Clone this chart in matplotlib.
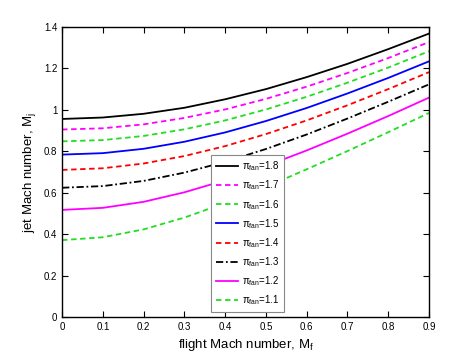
import numpy as np
import matplotlib
matplotlib.use('Agg')
import matplotlib.pyplot as plt
from matplotlib.ticker import FormatStrFormatter

plt.rcParams['font.family'] = ['Liberation Sans', 'DejaVu Sans']
plt.rcParams['mathtext.fontset'] = 'custom'
plt.rcParams['mathtext.rm'] = 'Liberation Sans'
plt.rcParams['mathtext.it'] = 'Liberation Sans'

Mf = [0.0, 0.1, 0.2, 0.3, 0.4, 0.5, 0.6, 0.7, 0.8, 0.9]  # flight Mach number
pi_fan = ['1.8', '1.7', '1.6', '1.5', '1.4', '1.3', '1.2', '1.1']

# jet Mach number, one list per fan pressure ratio
Mj_18 = [0.956, 0.963, 0.981, 1.010, 1.051, 1.100, 1.158, 1.222, 1.293, 1.368]
Mj_17 = [0.905, 0.911, 0.930, 0.961, 1.002, 1.053, 1.112, 1.178, 1.250, 1.327]
Mj_16 = [0.848, 0.854, 0.874, 0.906, 0.949, 1.002, 1.063, 1.131, 1.204, 1.283]
Mj_15 = [0.784, 0.791, 0.812, 0.846, 0.891, 0.946, 1.009, 1.079, 1.154, 1.234]
Mj_14 = [0.710, 0.718, 0.741, 0.777, 0.825, 0.883, 0.949, 1.022, 1.100, 1.182]
Mj_13 = [0.624, 0.632, 0.657, 0.697, 0.749, 0.811, 0.881, 0.958, 1.039, 1.123]
Mj_12 = [0.517, 0.527, 0.556, 0.602, 0.660, 0.729, 0.804, 0.885, 0.970, 1.059]
Mj_11 = [0.371, 0.385, 0.423, 0.480, 0.550, 0.628, 0.713, 0.801, 0.892, 0.985]

series = [Mj_18, Mj_17, Mj_16, Mj_15, Mj_14, Mj_13, Mj_12, Mj_11]
styles = [('k', '-'), ('#ff00ff', (0, (3, 2))), ('#22dd22', (0, (3, 2))), ('#0000ff', '-'),
          ('#ff0000', (0, (3, 2))), ('k', (0, (4, 1.5, 1, 1.5))), ('#ff00ff', '-'),
          ('#22dd22', (0, (3, 2)))]

fig = plt.figure(figsize=(4.74, 3.55), dpi=100)
ax = fig.add_axes([0.131, 0.107, 0.774, 0.817])

for y, (c, ls), p in zip(series, styles, pi_fan):
    ax.plot(Mf, y, color=c, linestyle=ls, linewidth=1.3,
            label=r'$\pi_{\rm fan}$=' + p)

ax.set_xlim(0, 0.9)
ax.set_ylim(0, 1.4)
ax.set_xticks(np.arange(0, 0.91, 0.1))
ax.set_yticks(np.arange(0, 1.41, 0.2))
ax.xaxis.set_major_formatter(FormatStrFormatter('%g'))
ax.yaxis.set_major_formatter(FormatStrFormatter('%g'))
ax.tick_params(direction='in', top=True, right=True, labelsize=7, length=4)
for s in ax.spines.values():
    s.set_linewidth(1.0)

ax.set_xlabel(r'flight Mach number, M$_{\rm f}$', fontsize=9.5)
ax.set_ylabel(r'jet Mach number, M$_{\rm j}$', fontsize=9.5)

leg = ax.legend(loc='upper left', bbox_to_anchor=(0.405, 0.56), fontsize=7,
                fancybox=False, edgecolor='#888888', framealpha=1,
                handlelength=2.3, handletextpad=0.4, labelspacing=0.55,
                borderpad=0.5, borderaxespad=0)
leg.get_frame().set_linewidth(0.8)

plt.savefig('out.png', dpi=100)
